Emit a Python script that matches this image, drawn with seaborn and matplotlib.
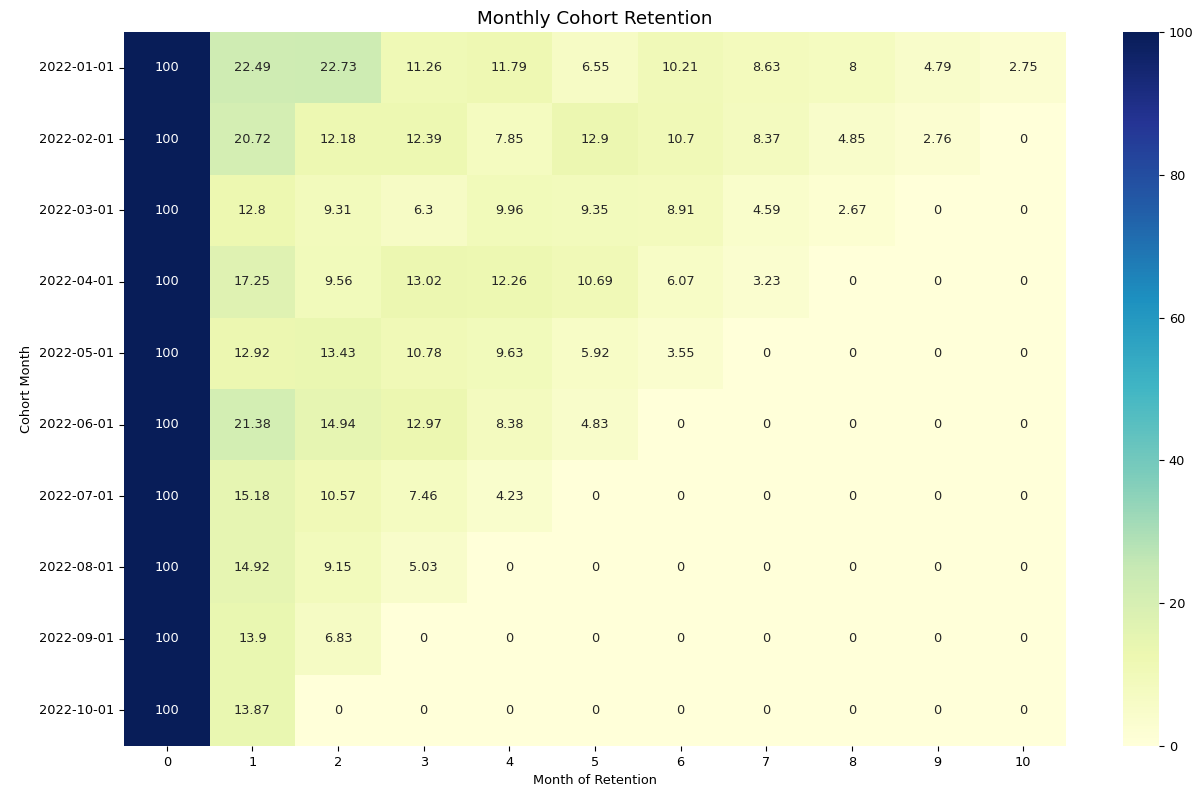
import numpy as np
import pandas as pd
import seaborn as sns
import matplotlib
matplotlib.use("Agg")
import matplotlib.pyplot as plt

cohorts = ["2022-01-01", "2022-02-01", "2022-03-01", "2022-04-01", "2022-05-01",
           "2022-06-01", "2022-07-01", "2022-08-01", "2022-09-01", "2022-10-01"]
months = list(range(11))

r01 = [100, 22.49, 22.73, 11.26, 11.79, 6.55, 10.21, 8.63, 8, 4.79, 2.75]
r02 = [100, 20.72, 12.18, 12.39, 7.85, 12.9, 10.7, 8.37, 4.85, 2.76, 0]
r03 = [100, 12.8, 9.31, 6.3, 9.96, 9.35, 8.91, 4.59, 2.67, 0, 0]
r04 = [100, 17.25, 9.56, 13.02, 12.26, 10.69, 6.07, 3.23, 0, 0, 0]
r05 = [100, 12.92, 13.43, 10.78, 9.63, 5.92, 3.55, 0, 0, 0, 0]
r06 = [100, 21.38, 14.94, 12.97, 8.38, 4.83, 0, 0, 0, 0, 0]
r07 = [100, 15.18, 10.57, 7.46, 4.23, 0, 0, 0, 0, 0, 0]
r08 = [100, 14.92, 9.15, 5.03, 0, 0, 0, 0, 0, 0, 0]
r09 = [100, 13.9, 6.83, 0, 0, 0, 0, 0, 0, 0, 0]
r10 = [100, 13.87, 0, 0, 0, 0, 0, 0, 0, 0, 0]

df = pd.DataFrame([r01, r02, r03, r04, r05, r06, r07, r08, r09, r10],
                  index=cohorts, columns=months)
df.index.name = "Cohort Month"
df.columns.name = "Month of Retention"

fs = 9.3
fig = plt.figure(figsize=(12, 7.98), dpi=100)
ax = fig.add_axes([0.1033, 0.0652, 0.7850, 0.8947])
cax = fig.add_axes([0.9358, 0.0652, 0.030, 0.8947])
sns.heatmap(df, annot=True, fmt="g", cmap="YlGnBu", ax=ax, cbar_ax=cax,
            annot_kws={"fontsize": fs})
ax.set_title("Monthly Cohort Retention", fontsize=13.2)
ax.set_xlabel("Month of Retention", fontsize=fs)
ax.set_ylabel("Cohort Month", fontsize=fs)
ax.tick_params(labelsize=fs)
plt.setp(ax.get_yticklabels(), rotation=0)
cax.tick_params(labelsize=fs)
fig.savefig("out.png", dpi=100)
